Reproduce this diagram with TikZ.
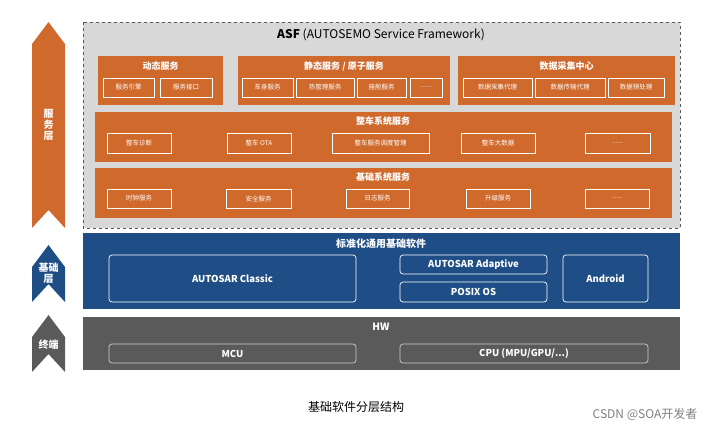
\documentclass[tikz,border=0pt]{standalone}
\usepackage{fontspec}
\setmainfont{Noto Sans CJK SC}
\begin{document}
\begin{tikzpicture}[x=1pt,y=-1pt,
  ib/.style={draw=white,line width=0.6pt,text=white,font=\fontsize{6.5}{7}\selectfont,inner sep=0},
  rb/.style={draw=white,line width=0.7pt,rounded corners=3pt,text=white,font=\fontsize{9.5}{10}\selectfont\bfseries,inner sep=0},
  ttl/.style={text=white,font=\fontsize{9}{10}\selectfont\bfseries},
  lbl/.style={text=white,font=\fontsize{10}{11}\selectfont\bfseries,align=center}]
\definecolor{orgc}{HTML}{D0692C}
\definecolor{bluec}{HTML}{1F4D86}
\definecolor{grayc}{HTML}{5A5A5A}
\definecolor{lgc}{HTML}{D8D8D8}
\useasboundingbox (0,0) rectangle (725,432);
\def\chev#1#2#3{\fill[#1] (48.5,#2) -- (65,#2+22) -- (65,#3) -- (48.5,#3-18) -- (32,#3) -- (32,#2+22) -- cycle;}
\chev{orgc}{22}{228}
\chev{bluec}{245}{302}
\chev{grayc}{315}{372}
\node[lbl] (l1) at (48.5,125) {服\\务\\层};
\node[lbl] (l2) at (48.5,273) {基础\\层};
\node[lbl] (l3) at (48.5,345) {终端};
\draw[fill=lgc,dashed,draw=gray!70!black] (83,22) rectangle (680,228);
\node[font=\fontsize{12}{13}\selectfont] (asf) at (381,35) {\textbf{ASF} (AUTOSEMO Service Framework)};
\fill[orgc] (98,56) rectangle (223,105);
\fill[orgc] (238,56) rectangle (450,105);
\fill[orgc] (458,56) rectangle (675,105);
\node[ttl] (d) at (160.5,66) {动态服务};
\node[ttl] (s) at (344,66) {静态服务 / 原子服务};
\node[ttl] (c) at (566.5,66) {数据采集中心};
\newcommand\ibox[5]{\node[ib,minimum width=#2-#1,minimum height=#4-#3] (#5) at ({(#1+#2)/2},{(#3+#4)/2})}
\ibox{103}{154}{78}{97}{a1} {服务引擎};
\ibox{160}{212}{78}{97}{a2} {服务接口};
\ibox{242}{293}{78}{97}{b1} {车身服务};
\ibox{296}{354}{78}{97}{b2} {热管理服务};
\ibox{357}{406}{78}{97}{b3} {座舱服务};
\ibox{410}{442}{78}{97}{b4} {......};
\ibox{463}{532}{78}{97}{c1} {数据采集代理};
\ibox{535}{605}{78}{97}{c2} {数据传输代理};
\ibox{608}{664}{78}{97}{c3} {数据预处理};
\fill[orgc] (95,112) rectangle (672,162);
\node[ttl] (r2) at (383,121) {整车系统服务};
\ibox{107}{171}{133}{153}{e1} {整车诊断};
\ibox{227}{291}{133}{153}{e2} {整车 OTA};
\ibox{332}{429}{133}{153}{e3} {整车服务调度管理};
\ibox{461}{535}{133}{153}{e4} {整车大数据};
\ibox{585}{650}{133}{153}{e5} {......};
\fill[orgc] (95,168) rectangle (672,218);
\node[ttl] (r3) at (383,177) {基础系统服务};
\ibox{107}{171}{189}{208}{f1} {时钟服务};
\ibox{226}{291}{189}{208}{f2} {安全服务};
\ibox{346}{409}{189}{208}{f3} {日志服务};
\ibox{466}{530}{189}{208}{f4} {升级服务};
\ibox{585}{649}{189}{208}{f5} {......};
\fill[bluec] (83,233) rectangle (680,309);
\node[ttl,font=\fontsize{10}{11}\selectfont\bfseries] (bt) at (381,244) {标准化通用基础软件};
\node[rb,minimum width=247,minimum height=47] (ac) at (232.5,278.5) {AUTOSAR Classic};
\node[rb,minimum width=147,minimum height=19] (aa) at (473.5,264.5) {AUTOSAR Adaptive};
\node[rb,minimum width=147,minimum height=20] (po) at (473.5,292) {POSIX OS};
\node[rb,minimum width=85,minimum height=47] (an) at (605.5,278.5) {Android};
\fill[grayc] (83,317) rectangle (680,370);
\node[ttl,font=\fontsize{10}{11}\selectfont\bfseries] (hw) at (381,327) {HW};
\node[rb,draw=white!80!black,minimum width=247,minimum height=19] (mcu) at (232.5,353.5) {MCU};
\node[rb,draw=white!80!black,minimum width=248,minimum height=19] (cpu) at (524,353.5) {CPU (MPU/GPU/...)};
\node[font=\fontsize{12}{13}\selectfont] (cap) at (356,407) {基础软件分层结构};
\node[font=\fontsize{12}{13}\selectfont,text=gray] (wm) at (645,414) {CSDN @SOA开发者};
\end{tikzpicture}
\end{document}
